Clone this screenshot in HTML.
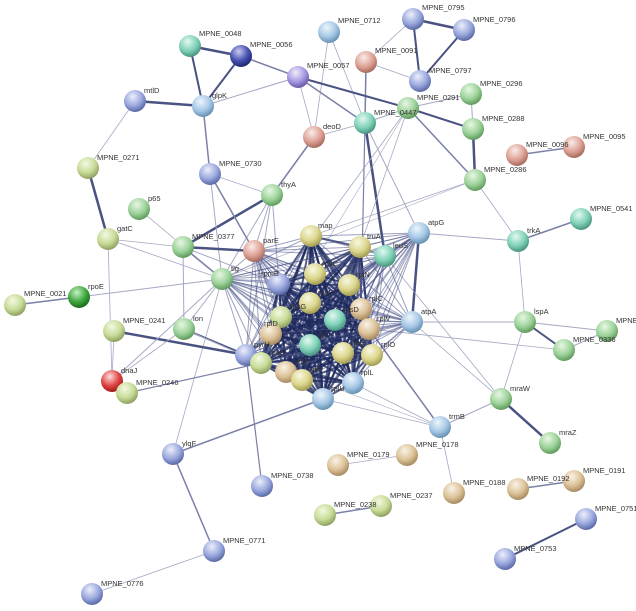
<!DOCTYPE html>
<html><head><meta charset="utf-8"><style>
html,body{margin:0;padding:0;background:#fff;width:636px;height:611px;overflow:hidden}
svg{display:block}
text{font-family:"Liberation Sans",sans-serif;font-size:7.5px;fill:#333}
</style></head><body>
<svg id="s" width="636" height="611" viewBox="0 0 636 611" xmlns="http://www.w3.org/2000/svg">
<defs>
<radialGradient id="gG" cx="40%" cy="30%" r="70%"><stop offset="0" stop-color="#e8f7e4"/><stop offset=".6" stop-color="#9dd39a"/><stop offset="1" stop-color="#5f9a5c"/></radialGradient>
<radialGradient id="gL" cx="40%" cy="30%" r="70%"><stop offset="0" stop-color="#f3f8e2"/><stop offset=".6" stop-color="#c8dc98"/><stop offset="1" stop-color="#8ea060"/></radialGradient>
<radialGradient id="gT" cx="40%" cy="30%" r="70%"><stop offset="0" stop-color="#e2f8f0"/><stop offset=".6" stop-color="#80d2b8"/><stop offset="1" stop-color="#4a9480"/></radialGradient>
<radialGradient id="gB" cx="40%" cy="30%" r="70%"><stop offset="0" stop-color="#eceffa"/><stop offset=".6" stop-color="#9aa8de"/><stop offset="1" stop-color="#5a6aa6"/></radialGradient>
<radialGradient id="gK" cx="40%" cy="30%" r="70%"><stop offset="0" stop-color="#eef5fb"/><stop offset=".6" stop-color="#a6c8e6"/><stop offset="1" stop-color="#6690b2"/></radialGradient>
<radialGradient id="gP" cx="40%" cy="30%" r="70%"><stop offset="0" stop-color="#f0ecfa"/><stop offset=".6" stop-color="#a898e2"/><stop offset="1" stop-color="#6a5aa6"/></radialGradient>
<radialGradient id="gS" cx="40%" cy="30%" r="70%"><stop offset="0" stop-color="#faece8"/><stop offset=".6" stop-color="#dea296"/><stop offset="1" stop-color="#a86a5e"/></radialGradient>
<radialGradient id="gN" cx="40%" cy="30%" r="70%"><stop offset="0" stop-color="#faf3e6"/><stop offset=".6" stop-color="#dcc298"/><stop offset="1" stop-color="#a68a60"/></radialGradient>
<radialGradient id="gY" cx="40%" cy="30%" r="70%"><stop offset="0" stop-color="#f8f8e2"/><stop offset=".6" stop-color="#dcd68c"/><stop offset="1" stop-color="#a29c52"/></radialGradient>
<radialGradient id="gR" cx="40%" cy="30%" r="70%"><stop offset="0" stop-color="#fcdede"/><stop offset=".6" stop-color="#e04646"/><stop offset="1" stop-color="#a01818"/></radialGradient>
<radialGradient id="gD" cx="40%" cy="30%" r="70%"><stop offset="0" stop-color="#c6f0c6"/><stop offset=".6" stop-color="#3fa83f"/><stop offset="1" stop-color="#1c6c1c"/></radialGradient>
<radialGradient id="gZ" cx="40%" cy="30%" r="70%"><stop offset="0" stop-color="#c8ccf0"/><stop offset=".6" stop-color="#4652b0"/><stop offset="1" stop-color="#1e2670"/></radialGradient>
</defs>
<g id="edges"></g>
<g id="nodes" stroke="none">
<circle id="MPNE_0048" cx="190" cy="46" r="11" fill="url(#gT)"/>
<circle id="MPNE_0056" cx="241" cy="56" r="11" fill="url(#gZ)"/>
<circle id="MPNE_0712" cx="329" cy="32" r="11" fill="url(#gK)"/>
<circle id="MPNE_0795" cx="413" cy="19" r="11" fill="url(#gB)"/>
<circle id="MPNE_0796" cx="464" cy="30" r="11" fill="url(#gB)"/>
<circle id="MPNE_0091" cx="366" cy="62" r="11" fill="url(#gS)"/>
<circle id="MPNE_0057" cx="298" cy="77" r="11" fill="url(#gP)"/>
<circle id="MPNE_0797" cx="420" cy="81" r="11" fill="url(#gB)"/>
<circle id="MPNE_0296" cx="471" cy="94" r="11" fill="url(#gG)"/>
<circle id="mtlD" cx="135" cy="101" r="11" fill="url(#gB)"/>
<circle id="glpK" cx="203" cy="106" r="11" fill="url(#gK)"/>
<circle id="MPNE_0291" cx="408" cy="108" r="11" fill="url(#gG)"/>
<circle id="MPNE_0447" cx="365" cy="123" r="11" fill="url(#gT)"/>
<circle id="MPNE_0288" cx="473" cy="129" r="11" fill="url(#gG)"/>
<circle id="deoD" cx="314" cy="137" r="11" fill="url(#gS)"/>
<circle id="MPNE_0096" cx="517" cy="155" r="11" fill="url(#gS)"/>
<circle id="MPNE_0095" cx="574" cy="147" r="11" fill="url(#gS)"/>
<circle id="MPNE_0271" cx="88" cy="168" r="11" fill="url(#gL)"/>
<circle id="MPNE_0730" cx="210" cy="174" r="11" fill="url(#gB)"/>
<circle id="thyA" cx="272" cy="195" r="11" fill="url(#gG)"/>
<circle id="MPNE_0286" cx="475" cy="180" r="11" fill="url(#gG)"/>
<circle id="p65" cx="139" cy="209" r="11" fill="url(#gG)"/>
<circle id="MPNE_0541" cx="581" cy="219" r="11" fill="url(#gT)"/>
<circle id="gatC" cx="108" cy="239" r="11" fill="url(#gL)"/>
<circle id="MPNE_0377" cx="183" cy="247" r="11" fill="url(#gG)"/>
<circle id="trkA" cx="518" cy="241" r="11" fill="url(#gT)"/>
<circle id="MPNE_0021" cx="15" cy="305" r="11" fill="url(#gL)"/>
<circle id="rpoE" cx="79" cy="297" r="11" fill="url(#gD)"/>
<circle id="MPNE_0241" cx="114" cy="331" r="11" fill="url(#gL)"/>
<circle id="lon" cx="184" cy="329" r="11" fill="url(#gG)"/>
<circle id="dnaJ" cx="112" cy="381" r="11" fill="url(#gR)"/>
<circle id="MPNE_0246" cx="127" cy="393" r="11" fill="url(#gL)"/>
<circle id="lspA" cx="525" cy="322" r="11" fill="url(#gG)"/>
<circle id="MPNE_X" cx="607" cy="331" r="11" fill="url(#gG)"/>
<circle id="MPNE_0336" cx="564" cy="350" r="11" fill="url(#gG)"/>
<circle id="mraW" cx="501" cy="399" r="11" fill="url(#gG)"/>
<circle id="mraZ" cx="550" cy="443" r="11" fill="url(#gG)"/>
<circle id="trmB" cx="440" cy="427" r="11" fill="url(#gK)"/>
<circle id="ylqF" cx="173" cy="454" r="11" fill="url(#gB)"/>
<circle id="MPNE_0738" cx="262" cy="486" r="11" fill="url(#gB)"/>
<circle id="MPNE_0771" cx="214" cy="551" r="11" fill="url(#gB)"/>
<circle id="MPNE_0776" cx="92" cy="594" r="11" fill="url(#gB)"/>
<circle id="MPNE_0179" cx="338" cy="465" r="11" fill="url(#gN)"/>
<circle id="MPNE_0178" cx="407" cy="455" r="11" fill="url(#gN)"/>
<circle id="MPNE_0188" cx="454" cy="493" r="11" fill="url(#gN)"/>
<circle id="MPNE_0238" cx="325" cy="515" r="11" fill="url(#gL)"/>
<circle id="MPNE_0237" cx="381" cy="506" r="11" fill="url(#gL)"/>
<circle id="MPNE_0192" cx="518" cy="489" r="11" fill="url(#gN)"/>
<circle id="MPNE_0191" cx="574" cy="481" r="11" fill="url(#gN)"/>
<circle id="MPNE_0751" cx="586" cy="519" r="11" fill="url(#gB)"/>
<circle id="MPNE_0753" cx="505" cy="559" r="11" fill="url(#gB)"/>
<circle id="parE" cx="254" cy="251" r="11" fill="url(#gS)"/>
<circle id="map" cx="311" cy="236" r="11" fill="url(#gY)"/>
<circle id="truA" cx="360" cy="247" r="11" fill="url(#gY)"/>
<circle id="leuS" cx="385" cy="256" r="11" fill="url(#gT)"/>
<circle id="atpG" cx="419" cy="233" r="11" fill="url(#gK)"/>
<circle id="tig" cx="222" cy="279" r="11" fill="url(#gG)"/>
<circle id="rpmB" cx="279" cy="284" r="11" fill="url(#gB)"/>
<circle id="rpsC" cx="315" cy="274" r="11" fill="url(#gY)"/>
<circle id="rplN" cx="349" cy="285" r="11" fill="url(#gY)"/>
<circle id="rpsH" cx="310" cy="303" r="11" fill="url(#gY)"/>
<circle id="rplC" cx="361" cy="309" r="11" fill="url(#gN)"/>
<circle id="rpsG" cx="281" cy="317" r="11" fill="url(#gL)"/>
<circle id="rpsD" cx="335" cy="320" r="11" fill="url(#gT)"/>
<circle id="rplD" cx="271" cy="334" r="11" fill="url(#gN)"/>
<circle id="rplV" cx="369" cy="329" r="11" fill="url(#gN)"/>
<circle id="rplJ" cx="310" cy="345" r="11" fill="url(#gT)"/>
<circle id="rplE" cx="343" cy="353" r="11" fill="url(#gY)"/>
<circle id="rplO" cx="372" cy="355" r="11" fill="url(#gY)"/>
<circle id="pyrH" cx="246" cy="355" r="11" fill="url(#gB)"/>
<circle id="rpsB" cx="261" cy="363" r="11" fill="url(#gL)"/>
<circle id="rplW" cx="286" cy="372" r="11" fill="url(#gN)"/>
<circle id="rplP" cx="302" cy="380" r="11" fill="url(#gY)"/>
<circle id="rplL" cx="353" cy="383" r="11" fill="url(#gK)"/>
<circle id="rplU" cx="323" cy="399" r="11" fill="url(#gK)"/>
<circle id="atpA" cx="412" cy="322" r="11" fill="url(#gK)"/>
</g>
<g id="labels">
<text x="199" y="36">MPNE_0048</text>
<text x="250" y="47">MPNE_0056</text>
<text x="338" y="23">MPNE_0712</text>
<text x="422" y="10">MPNE_0795</text>
<text x="473" y="22">MPNE_0796</text>
<text x="375" y="53">MPNE_0091</text>
<text x="307" y="68">MPNE_0057</text>
<text x="429" y="73">MPNE_0797</text>
<text x="480" y="86">MPNE_0296</text>
<text x="144" y="93">mtlD</text>
<text x="212" y="98">glpK</text>
<text x="417" y="100">MPNE_0291</text>
<text x="374" y="115">MPNE_0447</text>
<text x="482" y="121">MPNE_0288</text>
<text x="323" y="129">deoD</text>
<text x="526" y="147">MPNE_0096</text>
<text x="583" y="139">MPNE_0095</text>
<text x="97" y="160">MPNE_0271</text>
<text x="219" y="166">MPNE_0730</text>
<text x="281" y="187">thyA</text>
<text x="484" y="172">MPNE_0286</text>
<text x="148" y="201">p65</text>
<text x="590" y="211">MPNE_0541</text>
<text x="117" y="231">gatC</text>
<text x="192" y="239">MPNE_0377</text>
<text x="527" y="233">trkA</text>
<text x="24" y="296">MPNE_0021</text>
<text x="88" y="289">rpoE</text>
<text x="123" y="323">MPNE_0241</text>
<text x="193" y="321">lon</text>
<text x="121" y="373">dnaJ</text>
<text x="136" y="385">MPNE_0246</text>
<text x="534" y="314">lspA</text>
<text x="616" y="323">MPNE</text>
<text x="573" y="342">MPNE_0336</text>
<text x="510" y="391">mraW</text>
<text x="559" y="435">mraZ</text>
<text x="449" y="419">trmB</text>
<text x="182" y="446">ylqF</text>
<text x="271" y="478">MPNE_0738</text>
<text x="223" y="543">MPNE_0771</text>
<text x="101" y="586">MPNE_0776</text>
<text x="347" y="457">MPNE_0179</text>
<text x="416" y="447">MPNE_0178</text>
<text x="463" y="485">MPNE_0188</text>
<text x="334" y="507">MPNE_0238</text>
<text x="390" y="498">MPNE_0237</text>
<text x="527" y="481">MPNE_0192</text>
<text x="583" y="473">MPNE_0191</text>
<text x="595" y="511">MPNE_0751</text>
<text x="514" y="551">MPNE_0753</text>
<text x="263" y="243">parE</text>
<text x="318" y="228">map</text>
<text x="367" y="239">truA</text>
<text x="393" y="248">leuS</text>
<text x="428" y="225">atpG</text>
<text x="231" y="271">tig</text>
<text x="261" y="276">rpmB</text>
<text x="322" y="266">rpsC</text>
<text x="356" y="277">rplN</text>
<text x="318" y="295">rpsH</text>
<text x="369" y="301">rplC</text>
<text x="290" y="309">rpsG</text>
<text x="343" y="312">rpsD</text>
<text x="264" y="326">rplD</text>
<text x="377" y="321">rplV</text>
<text x="318" y="337">rplJ</text>
<text x="351" y="345">rplE</text>
<text x="381" y="347">rplO</text>
<text x="254" y="347">pyrH</text>
<text x="269" y="355">rpsB</text>
<text x="294" y="364">rplW</text>
<text x="310" y="372">rplP</text>
<text x="361" y="375">rplL</text>
<text x="331" y="391">rplU</text>
<text x="421" y="314">atpA</text>
</g>
</svg>
<script>
(function(){
var NS="http://www.w3.org/2000/svg",g=document.getElementById("edges");
function c(id){var e=document.getElementById(id);return [+e.getAttribute("cx"),+e.getAttribute("cy")];}
function L(a,b,w,col,op){var p=c(a),q=c(b),l=document.createElementNS(NS,"line");
l.setAttribute("x1",p[0]);l.setAttribute("y1",p[1]);l.setAttribute("x2",q[0]);l.setAttribute("y2",q[1]);
l.setAttribute("stroke",col);l.setAttribute("stroke-width",w);l.setAttribute("stroke-opacity",op);g.appendChild(l);}
var thin="#a4a8c4",mid="#7a80a8",thick="#4a5282";
var E=[
["MPNE_0048","MPNE_0056",2.5],["MPNE_0048","glpK",2],["MPNE_0056","glpK",2],["MPNE_0056","MPNE_0057",1.5],["glpK","MPNE_0057",1],
["mtlD","glpK",2.5],["mtlD","MPNE_0271",0.8],["MPNE_0271","gatC",2.5],["glpK","MPNE_0730",1.5],
["MPNE_0712","MPNE_0447",0.8],["MPNE_0712","deoD",0.8],["MPNE_0057","deoD",0.8],
["MPNE_0795","MPNE_0796",2.5],["MPNE_0795","MPNE_0797",2],["MPNE_0796","MPNE_0797",2],["MPNE_0795","MPNE_0091",0.8],["MPNE_0091","MPNE_0797",0.8],
["MPNE_0091","MPNE_0447",1.5],["MPNE_0057","MPNE_0447",1.5],["MPNE_0057","MPNE_0291",2],["MPNE_0447","MPNE_0291",1],["deoD","MPNE_0447",0.8],
["MPNE_0291","MPNE_0296",1],["MPNE_0296","MPNE_0288",1],["MPNE_0291","MPNE_0288",2],["MPNE_0288","MPNE_0286",2.5],["MPNE_0291","MPNE_0286",1.5],
["MPNE_0286","trkA",0.8],["MPNE_0286","map",0.8],["MPNE_0286","tig",0.6],["trkA","MPNE_0541",1.5],["trkA","lspA",0.8],["MPNE_0447","atpG",1],["MPNE_0447","leuS",2.5],
["MPNE_0291","truA",0.8],["MPNE_0291","rpmB",0.8],["deoD","thyA",1.5],["thyA","MPNE_0377",2.5],["thyA","tig",1],["thyA","parE",1],["thyA","pyrH",1],["thyA","rpmB",1],
["MPNE_0730","thyA",0.8],["MPNE_0730","tig",1],["MPNE_0730","parE",1.5],["p65","tig",0.8],["gatC","MPNE_0377",0.8],["gatC","tig",0.8],["gatC","dnaJ",0.8],
["MPNE_0377","parE",2.5],["MPNE_0377","tig",1.5],["MPNE_0377","lon",1],["MPNE_0377","rpmB",1],["rpoE","MPNE_0021",1.5],["rpoE","tig",1],
["atpG","trkA",1],["atpG","atpA",2.5],["atpA","lspA",1],["atpA","mraW",0.8],["rplV","MPNE_0336",0.8],["lspA","MPNE_X",1],["lspA","MPNE_0336",2],["MPNE_0336","MPNE_X",1],
["lspA","mraW",0.8],["mraW","trmB",1],["mraW","mraZ",2.5],["leuS","mraW",0.8],["trmB","rplV",1.5],["trmB","MPNE_0188",0.8],["trmB","rplU",0.8],["trmB","rplL",0.8],["trmB","pyrH",0.6],
["ylqF","rplU",1.5],["ylqF","MPNE_0771",1.5],["MPNE_0771","MPNE_0776",0.8],["ylqF","tig",0.8],["MPNE_0738","pyrH",1.2],
["MPNE_0179","MPNE_0178",0.8],["MPNE_0238","MPNE_0237",1.5],["MPNE_0192","MPNE_0191",1.5],["MPNE_0751","MPNE_0753",2],["MPNE_0096","MPNE_0095",1.5],
["MPNE_0241","pyrH",2.5],["MPNE_0241","dnaJ",0.8],["MPNE_0246","dnaJ",0.8],["MPNE_0246","rpsB",1.2],["dnaJ","lon",0.8],["dnaJ","tig",1],["lon","pyrH",2],["lon","tig",1],["lon","rpsB",1],
["MPNE_0447","rplC",1.2],["MPNE_0291","rpsG",0.6]
];
E.forEach(function(e){var col=e[2]>=2?thick:(e[2]>=1.2?mid:thin);L(e[0],e[1],e[2],col,1);});
var core=["parE","map","truA","leuS","atpG","tig","rpmB","rpsC","rplN","rpsH","rplC","rpsG","rpsD","rplD","rplV","rplJ","rplE","rplO","pyrH","rpsB","rplW","rplP","rplL","rplU","atpA"];
var dense=["map","truA","rpmB","rpsC","rplN","rpsH","rplC","rpsG","rpsD","rplD","rplV","rplJ","rplE","rplO","rpsB","rplW","rplP","rplL","rplU"];
for(var i=0;i<core.length;i++)for(var j=i+1;j<core.length;j++){
var a=core[i],b=core[j],d1=dense.indexOf(a)>=0,d2=dense.indexOf(b)>=0;
if(d1&&d2)L(a,b,2,"#1e2a5e",0.75);else L(a,b,1,"#4a5488",0.55);}
})();
</script>
</body></html>
